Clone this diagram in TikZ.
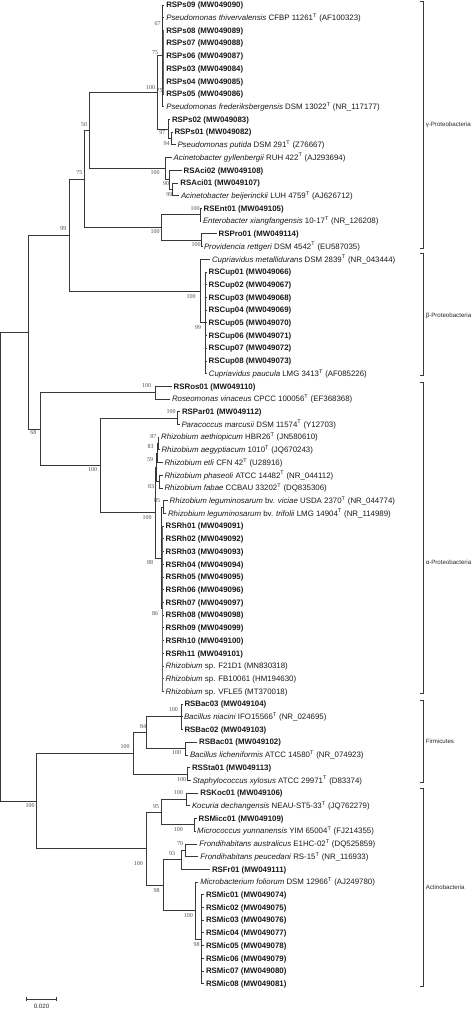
\documentclass[tikz,border=0pt]{standalone}
\usepackage{fontspec}
\setmainfont{Liberation Sans}
\newfontfamily\bsfont{Liberation Serif}
\newcommand\Tsup{\textsuperscript{T}}
\newcommand\lfsize{\fontsize{5.9}{7}\selectfont}
\newcommand\bsfsize{\bsfont\fontsize{4.5}{5}\selectfont}
\newcommand\clfsize{\fontsize{4.6}{5.5}\selectfont}
\begin{document}
\begin{tikzpicture}[x=0.75pt,y=-0.75pt,
  br/.style={draw=black!78, line width=0.55pt},
  thickbar/.style={draw=black!60, line width=1.1pt},
  leaf/.style={anchor=west, inner xsep=1.3pt, inner ysep=0pt, font=\lfsize, text height=4.2pt, text depth=0pt, text=black!90},
  bs/.style={font=\bsfsize, text=black!70, inner sep=0pt},
  clade/.style={anchor=west, font=\clfsize, inner sep=0pt, text=black!85}]
\useasboundingbox (0,0) rectangle (474,1010);
\clip (0,0) rectangle (474,1010);

% ---------- leaves ----------
\node[leaf] (L0) at (164.3,5.00) {\textbf{RSPs09 (MW049090)}};
\node[leaf] (L1) at (164.3,17.71) {\textit{Pseudomonas thivervalensis} CFBP 11261\Tsup{} (AF100323)};
\node[leaf] (L2) at (164.3,30.42) {\textbf{RSPs08 (MW049089)}};
\node[leaf] (L3) at (164.3,43.13) {\textbf{RSPs07 (MW049088)}};
\node[leaf] (L4) at (164.3,55.84) {\textbf{RSPs06 (MW049087)}};
\node[leaf] (L5) at (164.3,68.55) {\textbf{RSPs03 (MW049084)}};
\node[leaf] (L6) at (164.3,81.26) {\textbf{RSPs04 (MW049085)}};
\node[leaf] (L7) at (164.3,93.97) {\textbf{RSPs05 (MW049086)}};
\node[leaf] (L8) at (164.3,106.68) {\textit{Pseudomonas frederiksbergensis} DSM 13022\Tsup{} (NR\_117177)};
\node[leaf] (L9) at (170,119.39) {\textbf{RSPs02 (MW049083)}};
\node[leaf] (L10) at (172.5,132.10) {\textbf{RSPs01 (MW049082)}};
\node[leaf] (L11) at (175.5,144.81) {\textit{Pseudomonas putida} DSM 291\Tsup{} (Z76667)};
\node[leaf] (L12) at (171.7,157.52) {\textit{Acinetobacter gyllenbergii} RUH 422\Tsup{} (AJ293694)};
\node[leaf] (L13) at (181.7,170.23) {\textbf{RSAci02 (MW049108)}};
\node[leaf] (L14) at (178.4,182.94) {\textbf{RSAci01 (MW049107)}};
\node[leaf] (L15) at (179,195.65) {\textit{Acinetobacter beijerinckii} LUH 4759\Tsup{} (AJ626712)};
\node[leaf] (L16) at (201.7,208.36) {\textbf{RSEnt01 (MW049105)}};
\node[leaf] (L17) at (201,221.07) {\textit{Enterobacter xiangfangensis} 10-17\Tsup{} (NR\_126208)};
\node[leaf] (L18) at (216.7,233.78) {\textbf{RSPro01 (MW049114)}};
\node[leaf] (L19) at (202,246.49) {\textit{Providencia rettgeri} DSM 4542\Tsup{} (EU587035)};
\node[leaf] (L20) at (210,259.20) {\textit{Cupriavidus metallidurans} DSM 2839\Tsup{} (NR\_043444)};
\foreach \k in {1,...,8} {
  \pgfmathtruncatemacro\i{20+\k}
  \pgfmathsetmacro\yy{5+12.71*\i}
  \edef\acc{\the\numexpr49065+\k\relax}
  \node[leaf] (L\i) at (206.7,\yy) {\textbf{RSCup0\k{} (MW0\acc)}};
}
\node[leaf] (L29) at (206.9,373.59) {\textit{Cupriavidus paucula} LMG 3413\Tsup{} (AF085226)};
\node[leaf] (L30) at (171.7,386.30) {\textbf{RSRos01 (MW049110)}};
\node[leaf] (L31) at (170,399.01) {\textit{Roseomonas vinaceus} CPCC 100056\Tsup{} (EF368368)};
\node[leaf] (L32) at (180,411.72) {\textbf{RSPar01 (MW049112)}};
\node[leaf] (L33) at (179.5,424.43) {\textit{Paracoccus marcusii} DSM 11574\Tsup{} (Y12703)};
\node[leaf] (L34) at (159.2,437.14) {\textit{Rhizobium aethiopicum} HBR26\Tsup{} (JN580610)};
\node[leaf] (L35) at (159.5,449.85) {\textit{Rhizobium aegyptiacum} 1010\Tsup{} (JQ670243)};
\node[leaf] (L36) at (162.5,462.56) {\textit{Rhizobium etli} CFN 42\Tsup{} (U28916)};
\node[leaf] (L37) at (162.5,475.27) {\textit{Rhizobium phaseoli} ATCC 14482\Tsup{} (NR\_044112)};
\node[leaf] (L38) at (162.5,487.98) {\textit{Rhizobium fabae} CCBAU 33202\Tsup{} (DQ835306)};
\node[leaf] (L39) at (167.7,500.69) {\textit{Rhizobium leguminosarum} bv. \textit{viciae} USDA 2370\Tsup{} (NR\_044774)};
\node[leaf] (L40) at (166,513.40) {\textit{Rhizobium leguminosarum} bv. \textit{trifolii} LMG 14904\Tsup{} (NR\_114989)};
\foreach \k in {1,...,11} {
  \pgfmathtruncatemacro\i{40+\k}
  \pgfmathsetmacro\yy{5+12.71*\i}
  \edef\acc{\the\numexpr49090+\k\relax}
  \node[leaf] (L\i) at (163.6,\yy) {\textbf{RSRh\ifnum\k<10 0\fi\k{} (MW0\acc)}};
}
\node[leaf] (L52) at (163.6,665.92) {\textit{Rhizobium} sp. F21D1 (MN830318)};
\node[leaf] (L53) at (163.6,678.63) {\textit{Rhizobium} sp. FB10061 (HM194630)};
\node[leaf] (L54) at (163.6,691.34) {\textit{Rhizobium} sp. VFLE5 (MT370018)};
\node[leaf] (L55) at (182.5,704.05) {\textbf{RSBac03 (MW049104)}};
\node[leaf] (L56) at (182,716.76) {\textit{Bacillus niacini} IFO15566\Tsup{} (NR\_024695)};
\node[leaf] (L57) at (182.5,729.47) {\textbf{RSBac02 (MW049103)}};
\node[leaf] (L58) at (197.2,742.18) {\textbf{RSBac01 (MW049102)}};
\node[leaf] (L59) at (188,754.89) {\textit{Bacillus licheniformis} ATCC 14580\Tsup{} (NR\_074923)};
\node[leaf] (L60) at (190,767.60) {\textbf{RSSta01 (MW049113)}};
\node[leaf] (L61) at (190.5,780.31) {\textit{Staphylococcus xylosus} ATCC 29971\Tsup{} (D83374)};
\node[leaf] (L62) at (198.4,793.02) {\textbf{RSKoc01 (MW049106)}};
\node[leaf] (L63) at (190,805.73) {\textit{Kocuria dechangensis} NEAU-ST5-33\Tsup{} (JQ762279)};
\node[leaf] (L64) at (196.7,818.44) {\textbf{RSMicc01 (MW049109)}};
\node[leaf] (L65) at (195.2,831.15) {\textit{Micrococcus yunnanensis} YIM 65004\Tsup{} (FJ214355)};
\node[leaf] (L66) at (197.4,843.86) {\textit{Frondihabitans australicus} E1HC-02\Tsup{} (DQ525859)};
\node[leaf] (L67) at (198.4,856.57) {\textit{Frondihabitans peucedani} RS-15\Tsup{} (NR\_116933)};
\node[leaf] (L68) at (210,869.28) {\textbf{RSFr01 (MW049111)}};
\node[leaf] (L69) at (198.4,881.99) {\textit{Microbacterium foliorum} DSM 12966\Tsup{} (AJ249780)};
\foreach \k in {1,...,8} {
  \pgfmathtruncatemacro\i{69+\k}
  \pgfmathsetmacro\yy{5+12.71*\i}
  \edef\acc{\the\numexpr49073+\k\relax}
  \node[leaf] (L\i) at (204,\yy) {\textbf{RSMic0\k{} (MW0\acc)}};
}

% ---------- internal nodes ----------
\coordinate (PsA) at (162,55.84);
\coordinate (PsB) at (163.3,62.2);
\coordinate (P94) at (171.5,138.46);
\coordinate (P97) at (168,128.92);
\coordinate (P100) at (157.5,92.38);
\coordinate (Aci99) at (172.5,189.3);
\coordinate (Aci90) at (169.5,179.76);
\coordinate (A100) at (165,168.64);
\coordinate (X50) at (89.5,130.51);
\coordinate (Ent) at (200.3,214.72);
\coordinate (Pro) at (201.5,240.14);
\coordinate (EP) at (161.7,227.43);
\coordinate (N75) at (84,178.97);
\coordinate (Cup99) at (205.5,322.75);
\coordinate (Cup100) at (200,290.98);
\coordinate (B99) at (69,234.97);
\coordinate (Ros) at (155,392.66);
\coordinate (Par) at (177.5,418.08);
\coordinate (G1a) at (158.2,443.5);
\coordinate (G1b) at (157.3,453.03);
\coordinate (G1c) at (159.3,481.63);
\coordinate (G1r) at (156.3,467.33);
\coordinate (N85) at (163,507.05);
\coordinate (N86) at (162.7,608.73);
\coordinate (N88) at (161.3,557.89);
\coordinate (E) at (155,512.61);
\coordinate (D) at (100,465.35);
\coordinate (C68) at (40,429.0);
\coordinate (A) at (28.5,331.99);
\coordinate (Bac) at (181.5,716.76);
\coordinate (Bac01) at (185.5,748.54);
\coordinate (N84) at (146.7,732.65);
\coordinate (Sta) at (187,773.96);
\coordinate (Firm) at (133.3,753.31);
\coordinate (Koc) at (186.5,799.38);
\coordinate (Micc) at (194.5,824.8);
\coordinate (N95) at (161.7,812.09);
\coordinate (Fp) at (185.7,850.22);
\coordinate (N93) at (181,859.75);
\coordinate (Mic98) at (201.7,939.19);
\coordinate (Mic100) at (195,910.59);
\coordinate (N98) at (163.3,885.17);
\coordinate (Act) at (146.7,848.63);
\coordinate (F) at (36,800.97);
\coordinate (Root) at (0.6,566.48);

% ---------- branches ----------
\foreach \i in {0,1,8} \draw[br] (PsA) |- (L\i.west);
\foreach \i in {2,...,7} \draw[br] (PsB) |- (L\i.west);
\draw[br] (PsA) |- (PsB);
\draw[thickbar] (L2.west -| PsB) -- (L7.west -| PsB);
\draw[br] (P94) |- (L10.west); \draw[br] (P94) |- (L11.west);
\draw[br] (P97) |- (L9.west); \draw[br] (P97) |- (P94);
\draw[br] (P100) |- (PsA); \draw[br] (P100) |- (P97);
\draw[br] (Aci99) |- (L14.west); \draw[br] (Aci99) |- (L15.west);
\draw[br] (Aci90) |- (L13.west); \draw[br] (Aci90) |- (Aci99);
\draw[br] (A100) |- (L12.west); \draw[br] (A100) |- (Aci90);
\draw[br] (X50) |- (P100); \draw[br] (X50) |- (A100);
\draw[br] (Ent) |- (L16.west); \draw[br] (Ent) |- (L17.west);
\draw[br] (Pro) |- (L18.west); \draw[br] (Pro) |- (L19.west);
\draw[br] (EP) |- (Ent); \draw[br] (EP) |- (Pro);
\draw[br] (N75) |- (X50); \draw[br] (N75) |- (EP);
\foreach \i in {21,...,29} \draw[br] (Cup99) |- (L\i.west);
\draw[br] (Cup100) |- (L20.west); \draw[br] (Cup100) |- (Cup99);
\draw[br] (B99) |- (N75); \draw[br] (B99) |- (Cup100);
\draw[br] (Ros) |- (L30.west); \draw[br] (Ros) |- (L31.west);
\draw[br] (Par) |- (L32.west); \draw[br] (Par) |- (L33.west);
\draw[br] (G1a) |- (L34.west); \draw[br] (G1a) |- (L35.west);
\draw[br] (G1b) |- (G1a); \draw[br] (G1b) |- (L36.west);
\draw[br] (G1c) |- (L37.west); \draw[br] (G1c) |- (L38.west);
\draw[br] (G1r) |- (G1b); \draw[br] (G1r) |- (G1c);
\draw[br] (N85) |- (L39.west); \draw[br] (N85) |- (L40.west);
\foreach \i in {41,...,54} \draw[br] (N86) |- (L\i.west);
\draw[thickbar] (L41.west -| N86) -- (L54.west -| N86);
\draw[br] (N88) |- (N85); \draw[br] (N88) |- (N86);
\draw[br] (E) |- (G1r); \draw[br] (E) |- (N88);
\draw[br] (D) |- (Par); \draw[br] (D) |- (E);
\draw[br] (C68) |- (Ros); \draw[br] (C68) |- (D);
\draw[br] (A) |- (B99); \draw[br] (A) |- (C68);
\foreach \i in {55,56,57} \draw[br] (Bac) |- (L\i.west);
\draw[br] (Bac01) |- (L58.west); \draw[br] (Bac01) |- (L59.west);
\draw[br] (N84) |- (Bac); \draw[br] (N84) |- (Bac01);
\draw[br] (Sta) |- (L60.west); \draw[br] (Sta) |- (L61.west);
\draw[br] (Firm) |- (N84); \draw[br] (Firm) |- (Sta);
\draw[br] (Koc) |- (L62.west); \draw[br] (Koc) |- (L63.west);
\draw[br] (Micc) |- (L64.west); \draw[br] (Micc) |- (L65.west);
\draw[br] (N95) |- (Koc); \draw[br] (N95) |- (Micc);
\draw[br] (Fp) |- (L66.west); \draw[br] (Fp) |- (L67.west);
\draw[br] (N93) |- (Fp); \draw[br] (N93) |- (L68.west);
\foreach \i in {70,...,77} \draw[br] (Mic98) |- (L\i.west);
\draw[br] (Mic100) |- (L69.west); \draw[br] (Mic100) |- (Mic98);
\draw[br] (N98) |- (N93); \draw[br] (N98) |- (Mic100);
\draw[br] (Act) |- (N95); \draw[br] (Act) |- (N98);
\draw[br] (F) |- (Firm); \draw[br] (F) |- (Act);
\draw[br] (Root) |- (A); \draw[br] (Root) |- (F);

% ---------- bootstrap values ----------
\node[bs] (b1) at (157.7,24) {67};
\node[bs] (b2) at (155,52.7) {75};
\node[bs] (b3) at (150.5,88) {100};
\node[bs] (b4) at (159.5,91) {75};
\node[bs] (b5) at (84,125) {50};
\node[bs] (b6) at (162.3,132.7) {97};
\node[bs] (b7) at (166.5,144) {94};
\node[bs] (b8) at (155,172.7) {100};
\node[bs] (b9) at (166,183.3) {90};
\node[bs] (b10) at (169.3,194.5) {99};
\node[bs] (b11) at (79.3,172.7) {75};
\node[bs] (b12) at (195,209) {100};
\node[bs] (b13) at (155,231.7) {100};
\node[bs] (b14) at (196,245) {100};
\node[bs] (b15) at (63.3,228.3) {99};
\node[bs] (b16) at (191,296.5) {100};
\node[bs] (b17) at (198,328) {99};
\node[bs] (b18) at (146.7,386) {100};
\node[bs] (b19) at (33.3,433) {68};
\node[bs] (b20) at (171,411.7) {100};
\node[bs] (b21) at (92.7,470) {100};
\node[bs] (b22) at (153.3,437) {87};
\node[bs] (b23) at (150.5,447) {83};
\node[bs] (b24) at (150,460) {59};
\node[bs] (b25) at (151,486.7) {83};
\node[bs] (b26) at (157,500.7) {85};
\node[bs] (b27) at (147,517.5) {100};
\node[bs] (b28) at (150,563) {88};
\node[bs] (b29) at (155,614) {86};
\node[bs] (b30) at (173.3,710) {100};
\node[bs] (b31) at (143,726.5) {84};
\node[bs] (b32) at (125,747) {100};
\node[bs] (b33) at (176.7,753) {100};
\node[bs] (b34) at (181.7,779.5) {100};
\node[bs] (b35) at (30,806) {100};
\node[bs] (b36) at (178.3,793) {100};
\node[bs] (b37) at (156,806.7) {95};
\node[bs] (b38) at (178.3,830) {100};
\node[bs] (b39) at (180,843.5) {70};
\node[bs] (b40) at (172,853.3) {93};
\node[bs] (b41) at (138.3,863.3) {100};
\node[bs] (b42) at (156.7,890.7) {98};
\node[bs] (b43) at (188.3,916) {100};
\node[bs] (b44) at (196.7,945) {98};

% ---------- clade brackets ----------
\coordinate (g1) at (423,1.5); \coordinate (g2) at (423,248);
\draw[br] ([xshift=-2.2pt]g1) -- (g1) -- (g2) -- ([xshift=-2.2pt]g2);
\node[clade] (gl) at (425.5,124.5) {γ-Proteobacteria};
\coordinate (be1) at (423,253.5); \coordinate (be2) at (423,375);
\draw[br] ([xshift=-2.2pt]be1) -- (be1) -- (be2) -- ([xshift=-2.2pt]be2);
\node[clade] (bel) at (425.5,315.5) {β-Proteobacteria};
\coordinate (al1) at (423,382); \coordinate (al2) at (423,693);
\draw[br] ([xshift=-2.2pt]al1) -- (al1) -- (al2) -- ([xshift=-2.2pt]al2);
\node[clade] (all) at (425.5,562) {α-Proteobacteria};
\coordinate (fi1) at (423,700); \coordinate (fi2) at (423,782);
\draw[br] ([xshift=-2.2pt]fi1) -- (fi1) -- (fi2) -- ([xshift=-2.2pt]fi2);
\node[clade] (fil) at (425.5,741.7) {Firmicutes};
\coordinate (ac1) at (423,788.5); \coordinate (ac2) at (423,986);
\draw[br] ([xshift=-2.2pt]ac1) -- (ac1) -- (ac2) -- ([xshift=-2.2pt]ac2);
\node[clade] (acl) at (425.5,887) {Actinobacteria};

% ---------- scale bar ----------
\coordinate (sb1) at (26,999.3); \coordinate (sb2) at (56.7,999.3);
\draw[br] (sb1) -- (sb2);
\draw[br] ([yshift=1.5pt]sb1) -- ([yshift=-1.5pt]sb1);
\draw[br] ([yshift=1.5pt]sb2) -- ([yshift=-1.5pt]sb2);
\node[clade, anchor=center] (sbl) at (41.5,1006) {0.020};
\end{tikzpicture}
\end{document}
